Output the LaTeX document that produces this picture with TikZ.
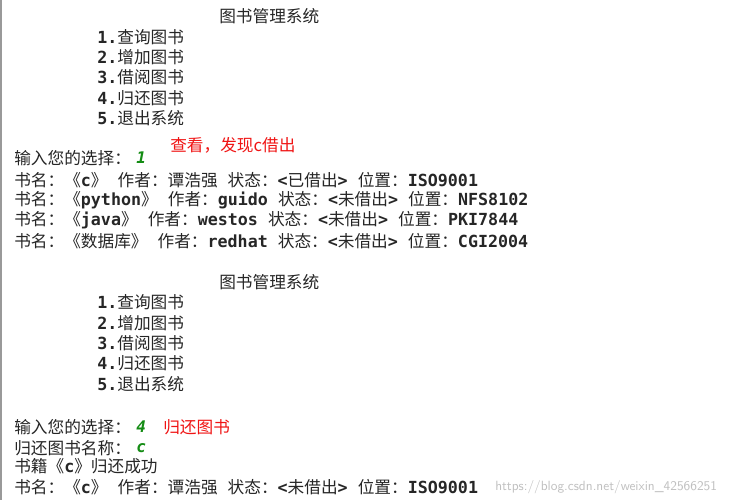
\documentclass[tikz,border=0pt]{standalone}
\usepackage{fontspec}
\newfontfamily\zh{Noto Sans CJK SC}
\newfontfamily\mono{DejaVu Sans Mono}
\newcommand{\Z}[1]{{\zh\fontsize{12.5pt}{13pt}\selectfont #1}}
\newcommand{\M}[1]{{\mono\bfseries\fontsize{12.5pt}{13pt}\selectfont #1}}
\newcommand{\SP}{{\mono\fontsize{12.5pt}{13pt}\selectfont\ }}
\definecolor{tgreen}{RGB}{20,140,20}
\definecolor{tred}{RGB}{240,20,20}
\begin{document}
\begin{tikzpicture}[x=0.75pt,y=-0.75pt,
  t/.style={anchor=west,inner sep=0pt,font=\fontsize{12pt}{13pt}\selectfont,text=black!85},
  g/.style={t,text=tgreen,font=\fontsize{12pt}{13pt}\selectfont\mono\bfseries\itshape},
  r/.style={t,text=tred,font=\fontsize{12.5pt}{13pt}\selectfont\zh}]
\useasboundingbox (0,0) rectangle (749,500);
\fill[white] (0,0) rectangle (749,500);
\draw[black!40,line width=1pt] (1,0) -- (1,500);
\node[t] (h1) at (219,16) {\Z{图书管理系统}};
\node[t] (a1) at (97,37) {\M{1.}\Z{查询图书}};
\node[t] (a2) at (97,57) {\M{2.}\Z{增加图书}};
\node[t] (a3) at (97,77) {\M{3.}\Z{借阅图书}};
\node[t] (a4) at (97,98) {\M{4.}\Z{归还图书}};
\node[t] (a5) at (97,118) {\M{5.}\Z{退出系统}};
\node[r] (n1) at (170,145) {查看，发现c借出};
\node[t] (i1) at (14,158) {\Z{输入您的选择：}};
\node[g] (v1) at (136,158) {1};
\node[t] (b1) at (14,180) {\Z{书名：《}\M{c}\Z{》}\SP\Z{作者：谭浩强}\SP\Z{状态：}\M{<}\Z{已借出}\M{>}\SP\Z{位置：}\M{ISO9001}};
\node[t] (b2) at (14,200) {\Z{书名：《}\M{python}\Z{》}\SP\Z{作者：}\M{guido}\SP\Z{状态：}\M{<}\Z{未借出}\M{>}\SP\Z{位置：}\M{NFS8102}};
\node[t] (b3) at (14,220) {\Z{书名：《}\M{java}\Z{》}\SP\Z{作者：}\M{westos}\SP\Z{状态：}\M{<}\Z{未借出}\M{>}\SP\Z{位置：}\M{PKI7844}};
\node[t] (b4) at (14,241) {\Z{书名：《数据库》}\SP\Z{作者：}\M{redhat}\SP\Z{状态：}\M{<}\Z{未借出}\M{>}\SP\Z{位置：}\M{CGI2004}};
\node[t] (h2) at (219,282) {\Z{图书管理系统}};
\node[t] (c1) at (97,302) {\M{1.}\Z{查询图书}};
\node[t] (c2) at (97,323) {\M{2.}\Z{增加图书}};
\node[t] (c3) at (97,343) {\M{3.}\Z{借阅图书}};
\node[t] (c4) at (97,363) {\M{4.}\Z{归还图书}};
\node[t] (c5) at (97,384) {\M{5.}\Z{退出系统}};
\node[t] (i2) at (14,427) {\Z{输入您的选择：}};
\node[g] (v2) at (136,427) {4};
\node[r] (n2) at (163,427) {归还图书};
\node[t] (i3) at (14,448) {\Z{归还图书名称：}};
\node[g] (v3) at (136,448) {c};
\node[t] (s1) at (14,466) {\Z{书籍《}\M{c}\Z{》归还成功}};
\node[t] (b5) at (14,487) {\Z{书名：《}\M{c}\Z{》}\SP\Z{作者：谭浩强}\SP\Z{状态：}\M{<}\Z{未借出}\M{>}\SP\Z{位置：}\M{ISO9001}};
\node[anchor=west,inner sep=0pt,text=black!25,font=\fontsize{10pt}{11pt}\selectfont\sffamily] (wm) at (495,487) {https://blog.csdn.net/weixin\_42566251};
\end{tikzpicture}
\end{document}
